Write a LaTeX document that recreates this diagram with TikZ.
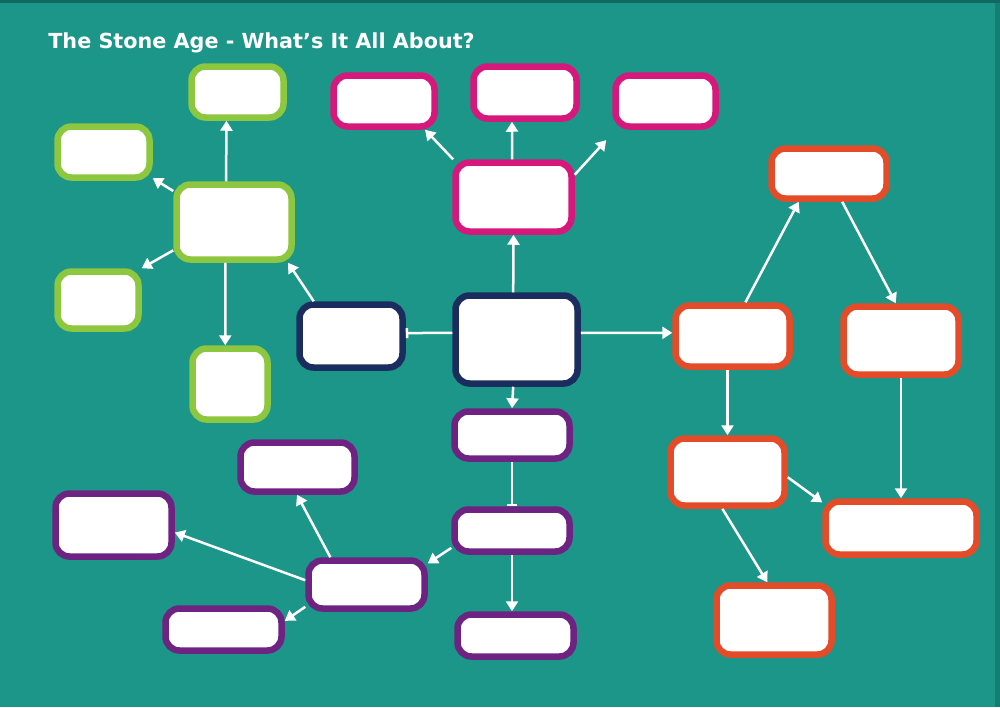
\documentclass[tikz,border=0pt]{standalone}
\usepackage{fontspec}
\setmainfont{DejaVu Sans}
\usetikzlibrary{arrows.meta}
\tikzstyle{board} = [x = 0.02cm, y = -0.02cm]
\definecolor{boardColor}{RGB}{27,150,137}
\definecolor{edgeColor}{RGB}{16,104,96}
\definecolor{greenColor}{RGB}{141,198,63}
\definecolor{pinkColor}{RGB}{214,24,124}
\definecolor{navyColor}{RGB}{27,45,95}
\definecolor{purpleColor}{RGB}{110,35,130}
\definecolor{orangeColor}{RGB}{228,75,40}
\tikzstyle{topicStyle} = [rectangle, fill=white, line width=0.13cm, rounded corners=0.28cm, inner sep=0pt]
\tikzstyle{linkStyle} = [draw=white, line width=0.05cm, -{Triangle[length=0.2cm, width=0.24cm]}]
\tikzstyle{tickStyle} = [draw=white, line width=0.05cm, -{Bar[width=0.2cm]}]
\tikzstyle{titleText} = [text=white, font=\bfseries\fontsize{11.8}{14}\selectfont, anchor=base west, inner sep=0pt]
\newcommand{\topicBox}[6]{\node [topicStyle, draw=#6, minimum width={(#4 - 7) * 0.02cm}, minimum height={(#5 - 7) * 0.02cm}] (#1) at (#2, #3) {};}
\newcommand{\link}[4]{\draw [linkStyle] (#1.#2) -- (#3.#4);}
\newcommand{\tickLink}[4]{\draw [tickStyle] (#1.#2) -- (#3.#4);}
\begin{document}
\begin{tikzpicture}[board]
          \fill [boardColor] (0,0) rectangle (1000,707);
          \fill [edgeColor] (0,0) rectangle (1000,3);
          \fill [edgeColor, opacity=0.5] (995,0) rectangle (1000,707);
          \node [titleText] (title) at (48,48) {The Stone Age - What's It All About?};

          % green group
          \topicBox{gTop}{237.5}{92}{99}{58}{greenColor}
          \topicBox{gLeft}{103.5}{152}{99}{58}{greenColor}
          \topicBox{gHub}{234}{222}{122}{82}{greenColor}
          \topicBox{gLow}{98}{300}{88}{64}{greenColor}
          \topicBox{gBottom}{230}{384}{82}{78}{greenColor}

          % pink group
          \topicBox{mLeft}{384}{101}{108}{58}{pinkColor}
          \topicBox{mMid}{525}{92.5}{110}{59}{pinkColor}
          \topicBox{mRight}{665.5}{101}{107}{58}{pinkColor}
          \topicBox{mHub}{513.5}{197}{123}{76}{pinkColor}

          % navy group
          \topicBox{nLeft}{351}{336}{110}{70}{navyColor}
          \topicBox{nCentre}{516.5}{339.5}{129}{95}{navyColor}

          % purple group
          \topicBox{pTop}{512}{435}{122}{54}{purpleColor}
          \topicBox{pMid}{512}{530.5}{122}{49}{purpleColor}
          \topicBox{pBottom}{515.5}{635.5}{123}{49}{purpleColor}
          \topicBox{pHub}{366.5}{584.5}{123}{55}{purpleColor}
          \topicBox{pUpper}{297.5}{467}{121}{56}{purpleColor}
          \topicBox{pLeft}{113.5}{525}{123}{70}{purpleColor}
          \topicBox{pLowLeft}{223.5}{629.5}{123}{49}{purpleColor}

          % orange group
          \topicBox{oLeft}{732.5}{336}{121}{68}{orangeColor}
          \topicBox{oTop}{829}{173.5}{122}{57}{orangeColor}
          \topicBox{oRight}{901}{340.5}{122}{75}{orangeColor}
          \topicBox{oMid}{727.5}{472}{121}{74}{orangeColor}
          \topicBox{oWide}{901}{528}{158}{60}{orangeColor}
          \topicBox{oBottom}{774}{620}{122}{76}{orangeColor}

          % links
          \link{gHub}{101}{gTop}{249}
          \link{gHub}{153}{gLeft}{332}
          \link{gHub}{205}{gLow}{36}
          \link{gHub}{258}{gBottom}{97}
          \link{nLeft}{137}{gHub}{323}
          \tickLink{nCentre}{174}{nLeft}{3}
          \link{nCentre}{94}{mHub}{south}
          \link{mHub}{148}{mLeft}{325}
          \link{mHub}{92}{mMid}{246}
          \draw [linkStyle, shorten >=0.28cm] (mHub.20) -- (mRight.210);
          \link{nCentre}{266}{pTop}{north}
          \tickLink{pTop}{south}{pMid}{north}
          \draw [linkStyle] (pMid.south) -- (pMid.south |- pBottom.north);
          \link{pMid}{196}{pHub}{19}
          \link{pHub}{143}{pUpper}{269}
          \link{pHub}{176}{pLeft}{353}
          \link{pHub}{200}{pLowLeft}{8}
          \link{nCentre}{6}{oLeft}{177}
          \link{oLeft}{69}{oTop}{223}
          \link{oTop}{295}{oRight}{98}
          \draw [linkStyle] (oLeft.south -| oMid.north) -- (oMid.north);
          \link{oRight}{south}{oWide}{north}
          \link{oMid}{355}{oWide}{162}
          \link{oMid}{262}{oBottom}{100}
        \end{tikzpicture}
\end{document}
